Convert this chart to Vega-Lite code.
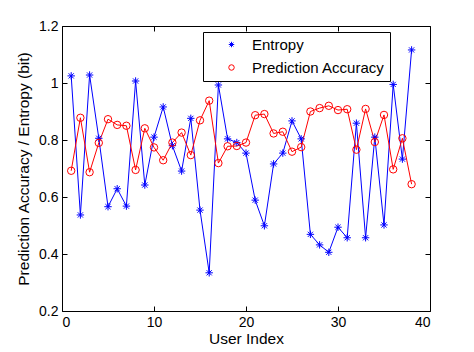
{
  "$schema": "https://vega.github.io/schema/vega-lite/v6.json",
  "width": 368,
  "height": 285,
  "autosize": {"type": "none"},
  "padding": {"left": 62, "top": 26, "right": 44, "bottom": 41},
  "background": "white",
  "config": {
    "font": "Liberation Sans",
    "view": {"stroke": "black", "strokeWidth": 1},
    "axis": {
      "grid": false,
      "domainColor": "black",
      "tickColor": "black",
      "labelColor": "black",
      "titleColor": "black",
      "labelFont": "Liberation Sans",
      "titleFont": "Liberation Sans",
      "labelFontSize": 14,
      "titleFontSize": 15.5,
      "titleFontWeight": "normal",
      "tickSize": -5
    }
  },
  "data": {
    "values": [
      {"user": 1, "series": "Entropy", "value": 1.025},
      {"user": 2, "series": "Entropy", "value": 0.537},
      {"user": 3, "series": "Entropy", "value": 1.028},
      {"user": 4, "series": "Entropy", "value": 0.806},
      {"user": 5, "series": "Entropy", "value": 0.566},
      {"user": 6, "series": "Entropy", "value": 0.629},
      {"user": 7, "series": "Entropy", "value": 0.568},
      {"user": 8, "series": "Entropy", "value": 1.007},
      {"user": 9, "series": "Entropy", "value": 0.642},
      {"user": 10, "series": "Entropy", "value": 0.81},
      {"user": 11, "series": "Entropy", "value": 0.916},
      {"user": 12, "series": "Entropy", "value": 0.78},
      {"user": 13, "series": "Entropy", "value": 0.691},
      {"user": 14, "series": "Entropy", "value": 0.876},
      {"user": 15, "series": "Entropy", "value": 0.554},
      {"user": 16, "series": "Entropy", "value": 0.334},
      {"user": 17, "series": "Entropy", "value": 0.993},
      {"user": 18, "series": "Entropy", "value": 0.804},
      {"user": 19, "series": "Entropy", "value": 0.791},
      {"user": 20, "series": "Entropy", "value": 0.754},
      {"user": 21, "series": "Entropy", "value": 0.589},
      {"user": 22, "series": "Entropy", "value": 0.499},
      {"user": 23, "series": "Entropy", "value": 0.716},
      {"user": 24, "series": "Entropy", "value": 0.754},
      {"user": 25, "series": "Entropy", "value": 0.867},
      {"user": 26, "series": "Entropy", "value": 0.804},
      {"user": 27, "series": "Entropy", "value": 0.469},
      {"user": 28, "series": "Entropy", "value": 0.432},
      {"user": 29, "series": "Entropy", "value": 0.406},
      {"user": 30, "series": "Entropy", "value": 0.494},
      {"user": 31, "series": "Entropy", "value": 0.457},
      {"user": 32, "series": "Entropy", "value": 0.859},
      {"user": 33, "series": "Entropy", "value": 0.457},
      {"user": 34, "series": "Entropy", "value": 0.81},
      {"user": 35, "series": "Entropy", "value": 0.502},
      {"user": 36, "series": "Entropy", "value": 0.995},
      {"user": 37, "series": "Entropy", "value": 0.733},
      {"user": 38, "series": "Entropy", "value": 1.116},
      {"user": 1, "series": "Prediction Accuracy", "value": 0.692},
      {"user": 2, "series": "Prediction Accuracy", "value": 0.878},
      {"user": 3, "series": "Prediction Accuracy", "value": 0.687},
      {"user": 4, "series": "Prediction Accuracy", "value": 0.79},
      {"user": 5, "series": "Prediction Accuracy", "value": 0.873},
      {"user": 6, "series": "Prediction Accuracy", "value": 0.853},
      {"user": 7, "series": "Prediction Accuracy", "value": 0.85},
      {"user": 8, "series": "Prediction Accuracy", "value": 0.695},
      {"user": 9, "series": "Prediction Accuracy", "value": 0.841},
      {"user": 10, "series": "Prediction Accuracy", "value": 0.774},
      {"user": 11, "series": "Prediction Accuracy", "value": 0.729},
      {"user": 12, "series": "Prediction Accuracy", "value": 0.791},
      {"user": 13, "series": "Prediction Accuracy", "value": 0.826},
      {"user": 14, "series": "Prediction Accuracy", "value": 0.747},
      {"user": 15, "series": "Prediction Accuracy", "value": 0.869},
      {"user": 16, "series": "Prediction Accuracy", "value": 0.938},
      {"user": 17, "series": "Prediction Accuracy", "value": 0.719},
      {"user": 18, "series": "Prediction Accuracy", "value": 0.778},
      {"user": 19, "series": "Prediction Accuracy", "value": 0.779},
      {"user": 20, "series": "Prediction Accuracy", "value": 0.791},
      {"user": 21, "series": "Prediction Accuracy", "value": 0.887},
      {"user": 22, "series": "Prediction Accuracy", "value": 0.891},
      {"user": 23, "series": "Prediction Accuracy", "value": 0.823},
      {"user": 24, "series": "Prediction Accuracy", "value": 0.829},
      {"user": 25, "series": "Prediction Accuracy", "value": 0.759},
      {"user": 26, "series": "Prediction Accuracy", "value": 0.775},
      {"user": 27, "series": "Prediction Accuracy", "value": 0.9},
      {"user": 28, "series": "Prediction Accuracy", "value": 0.912},
      {"user": 29, "series": "Prediction Accuracy", "value": 0.92},
      {"user": 30, "series": "Prediction Accuracy", "value": 0.905},
      {"user": 31, "series": "Prediction Accuracy", "value": 0.908},
      {"user": 32, "series": "Prediction Accuracy", "value": 0.766},
      {"user": 33, "series": "Prediction Accuracy", "value": 0.909},
      {"user": 34, "series": "Prediction Accuracy", "value": 0.793},
      {"user": 35, "series": "Prediction Accuracy", "value": 0.888},
      {"user": 36, "series": "Prediction Accuracy", "value": 0.697},
      {"user": 37, "series": "Prediction Accuracy", "value": 0.806},
      {"user": 38, "series": "Prediction Accuracy", "value": 0.645}
    ]
  },
  "encoding": {
    "color": {
      "field": "series", "type": "nominal",
      "scale": {"domain": ["Entropy", "Prediction Accuracy"], "range": ["#0000ff", "#ff0000"]},
      "legend": {
        "title": null,
        "orient": "none",
        "legendX": 141,
        "legendY": 6,
        "strokeColor": "black",
        "fillColor": "white",
        "padding": 5,
        "symbolOffset": 16,
        "labelOffset": 13,
        "labelFontSize": 15,
        "labelFont": "Liberation Sans",
        "labelColor": "black",
        "rowPadding": 7,
        "symbolSize": 30,
        "symbolStrokeWidth": 1,
        "symbolFillColor": "transparent",
        "labelLimit": 300,
        "cornerRadius": 0
      }
    }
  },
  "layer": [
    {
      "mark": {"type": "line", "strokeWidth": 1},
      "encoding": {
        "x": {
          "field": "user", "type": "quantitative",
          "scale": {"domain": [0, 40], "nice": false},
          "axis": {"title": "User Index", "values": [0, 10, 20, 30, 40], "labelPadding": 9, "titlePadding": 2, "domain": false}
        },
        "y": {
          "field": "value", "type": "quantitative",
          "scale": {"domain": [0.2, 1.2], "nice": false, "zero": false},
          "axis": {
            "title": "Prediction Accuracy / Entropy (bit)",
            "values": [0.2, 0.4, 0.6, 0.8, 1, 1.2],
            "labelExpr": "format(datum.value, '.1~f')",
            "labelPadding": 9,
            "titlePadding": 7,
            "domain": false
          }
        }
      }
    },
    {
      "mark": {"type": "point", "filled": false, "strokeWidth": 1, "opacity": 1, "size": 55},
      "encoding": {
        "x": {
          "field": "user", "type": "quantitative",
          "axis": {"orient": "top", "values": [0, 10, 20, 30, 40], "labels": false, "title": null, "domain": false}
        },
        "y": {
          "field": "value", "type": "quantitative",
          "axis": {"orient": "right", "values": [0.2, 0.4, 0.6, 0.8, 1, 1.2], "labels": false, "title": null, "domain": false}
        },
        "shape": {
          "field": "series", "type": "nominal",
          "scale": {
            "domain": ["Entropy", "Prediction Accuracy"],
            "range": ["M0,-1L0,1M-1,0L1,0M-0.7,-0.7L0.7,0.7M-0.7,0.7L0.7,-0.7", "circle"]
          }
        }
      }
    }
  ],
  "resolve": {"axis": {"x": "independent", "y": "independent"}}
}
